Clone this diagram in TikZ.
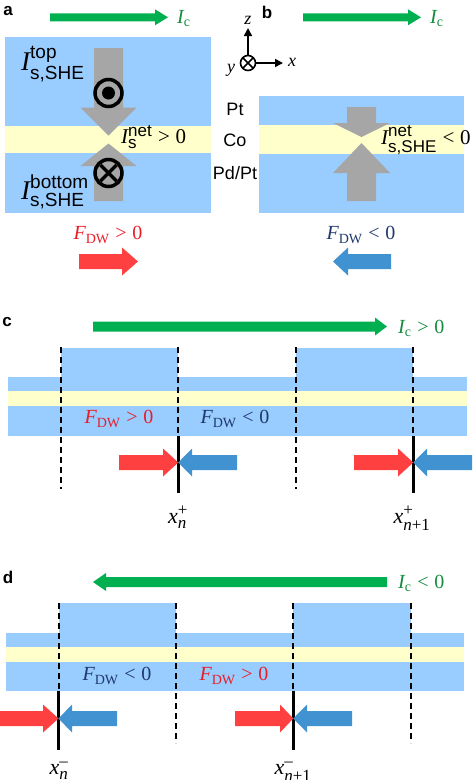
\documentclass[tikz,border=0pt]{standalone}
\usepackage{amsmath}
\usepackage{fontspec}
\setmainfont{Liberation Sans}
\setsansfont{Liberation Sans}
\newfontfamily\serif{Liberation Serif}
\usetikzlibrary{arrows.meta}
\DeclareMathSizes{20}{20}{14}{11}
\DeclareMathSizes{21}{21}{17}{12}
\DeclareMathSizes{22}{22}{17}{13}
\DeclareMathSizes{27}{27}{19}{14}
\newcommand\MI[1]{\text{\serif\itshape #1}}
\newcommand\MR[1]{\text{\serif #1}}
\newcommand\MS[1]{\text{\sffamily #1}}
\newcommand\Fdw{\MI{F}_{\MR{DW}}}
\newcommand\harrow[7]{\fill[#1] (#2,#5-#6) -- (#3,#5-#6) -- (#3,#5-#7) -- (#4,#5) -- (#3,#5+#7) -- (#3,#5+#6) -- (#2,#5+#6) -- cycle;}
\definecolor{lblue}{RGB}{153,204,255}
\definecolor{lyel}{RGB}{255,255,204}
\definecolor{garrow}{RGB}{166,166,166}
\definecolor{grn}{RGB}{0,176,80}
\definecolor{grntxt}{RGB}{20,140,60}
\definecolor{redar}{RGB}{255,64,64}
\definecolor{bluear}{RGB}{64,146,208}
\definecolor{redtxt}{RGB}{232,30,40}
\definecolor{navy}{RGB}{31,56,110}
\tikzset{
  lbl/.style={inner sep=0pt,font=\fontsize{17}{20}\selectfont\bfseries},
  sans/.style={inner sep=0pt,font=\fontsize{18}{21}\selectfont},
  mth/.style={inner sep=0pt,font=\fontsize{20}{24}\selectfont},
  mthx/.style={inner sep=0pt,font=\fontsize{22}{26}\selectfont},
  mthm/.style={inner sep=0pt,font=\fontsize{21}{25}\selectfont},
  mthb/.style={inner sep=0pt,font=\fontsize{27}{30}\selectfont},
  dashln/.style={line width=2pt,dash pattern=on 6pt off 4pt},
  wall/.style={line width=3.5pt},
  ax/.style={line width=1.6pt,-{Triangle[length=8pt,width=8pt]}}
}
\begin{document}
\begin{tikzpicture}[x=1pt,y=-1pt]
\useasboundingbox (0,0) rectangle (474,780);
% ================= panel a
\node[lbl] (la) at (8,11) {a};
\harrow{grn}{50}{155}{168}{17.3}{4}{8}
\node[mth,text=grntxt,anchor=base west] (ica) at (177,23) {$\MI{I}_{\MR{c}}$};
\fill[lblue] (5,37) rectangle (211,213);
\fill[lyel] (5,126) rectangle (211,153);
\fill[garrow] (94,48) -- (123,48) -- (123,107.5) -- (136.5,107.5) -- (108.5,135.5) -- (80.5,107.5) -- (94,107.5) -- cycle;
\fill[garrow] (94,201) -- (123,201) -- (123,166) -- (136.5,166) -- (108.5,143.5) -- (80.5,166) -- (94,166) -- cycle;
\draw[line width=3.5pt,fill=garrow] (108.5,93) circle[radius=13.5pt];
\fill[black] (108.5,93) circle[radius=6.5pt];
\draw[line width=3.5pt,fill=garrow] (108.5,173) circle[radius=13.5pt];
\draw[line width=3.5pt] (108.5,173) ++(-8,-8) -- ++(16,16);
\draw[line width=3.5pt] (108.5,173) ++(-8,8) -- ++(16,-16);
\node[mthb,anchor=west] (itop) at (21,64) {$\MI{I}^{\MS{top}}_{\MS{s,SHE}}$};
\node[mthb,anchor=west] (ibot) at (21,192) {$\MI{I}^{\MS{bottom}}_{\MS{s,SHE}}$};
\node[mthm,anchor=west] (inet) at (121,137) {$\MI{I}^{\MS{net}}_{\MS{s}} \mathrel{\MR{>}} \MR{0}$};
\node[sans] (pt) at (235,109) {Pt};
\node[sans] (co) at (235,140) {Co};
\node[sans] (pd) at (235,173) {Pd/Pt};
% axes
\coordinate (o) at (248,63);
\draw[line width=1.6pt] (o) circle[radius=7.5pt];
\draw[line width=1.6pt] (o) ++(-5,-5) -- ++(10,10);
\draw[line width=1.6pt] (o) ++(-5,5) -- ++(10,-10);
\coordinate (zt) at (248,28);
\coordinate (xt) at (283,63);
\draw[ax] (248,55.5) -- (zt);
\draw[ax] (255.5,63) -- (xt);
\node[inner sep=0pt,font=\fontsize{18}{20}\selectfont\serif\itshape] (zl) at (248,20) {z};
\node[inner sep=0pt,font=\fontsize{18}{20}\selectfont\serif\itshape] (xl) at (292,62) {x};
\node[inner sep=0pt,font=\fontsize{18}{20}\selectfont\serif\itshape] (yl) at (231,70) {y};
\node[mth,text=redtxt] (fa) at (108,235) {$\Fdw \mathrel{\MR{>}} \MR{0}$};
\harrow{redar}{79}{122}{138}{261.5}{7.5}{14}
% ================= panel b
\node[lbl] (lb) at (267,12) {b};
\harrow{grn}{303}{408}{421}{17.3}{4}{8}
\node[mth,text=grntxt,anchor=base west] (icb) at (430,23) {$\MI{I}_{\MR{c}}$};
\fill[lblue] (259,96) rectangle (464,212.5);
\fill[lyel] (259,125) rectangle (464,154);
\fill[garrow] (347,107) -- (376,107) -- (376,123) -- (390,123) -- (361.5,137) -- (333,123) -- (347,123) -- cycle;
\fill[garrow] (347,201) -- (376,201) -- (376,173) -- (390,173) -- (361.5,143) -- (333,173) -- (347,173) -- cycle;
\node[mthm,anchor=west] (inetb) at (381,140) {$\MI{I}^{\MS{net}}_{\MS{s,SHE}} \mathrel{\MR{<}} \MR{0}$};
\node[mth,text=navy] (fb) at (361,235) {$\Fdw \mathrel{\MR{<}} \MR{0}$};
\harrow{bluear}{391}{348}{333}{261.5}{7.5}{14}
% ================= panel c
\node[lbl] (lc) at (7,322) {c};
\harrow{grn}{93}{375}{387}{326.5}{5}{9}
\node[mth,text=grntxt,anchor=base west] (icc) at (398,333) {$\MI{I}_{\MR{c}} \mathrel{\MR{>}} \MR{0}$};
\fill[lblue] (8,377) rectangle (467,436);
\fill[lblue] (61,347.5) rectangle (178.3,391);
\fill[lblue] (295.7,347.5) rectangle (413.3,391);
\fill[lyel] (8,391) rectangle (467,406);
\node[mth,text=redtxt] (fc1) at (119,419) {$\Fdw \mathrel{\MR{>}} \MR{0}$};
\node[mth,text=navy] (fc2) at (235,419) {$\Fdw \mathrel{\MR{<}} \MR{0}$};
\draw[dashln] (61,347) -- (61,489);
\draw[dashln] (296,347) -- (296,489);
\draw[dashln] (178.3,347) -- (178.3,436);
\draw[dashln] (413.3,347) -- (413.3,436);
\draw[wall] (178.3,436) -- (178.3,493);
\draw[wall] (413.3,436) -- (413.3,493);
\harrow{redar}{119}{163}{178.3}{462.5}{7.5}{14}
\harrow{bluear}{237}{192}{178.3}{462.5}{7.5}{14}
\harrow{redar}{354}{398}{413.3}{462.5}{7.5}{14}
\harrow{bluear}{472}{427}{413.3}{462.5}{7.5}{14}
\node[mthx] (xn) at (178,517) {$\MI{x}^{\MR{+}}_{\MI{n}}$};
\node[mthx] (xn1) at (412,518) {$\MI{x}^{\MR{+}}_{\MI{n}\MR{+1}}$};
% ================= panel d
\node[lbl] (ld) at (8,577) {d};
\harrow{grn}{387}{106}{93}{582}{5}{9}
\node[mth,text=grntxt,anchor=base west] (icd) at (398,588) {$\MI{I}_{\MR{c}} \mathrel{\MR{<}} \MR{0}$};
\fill[lblue] (6,632.7) rectangle (464,690.7);
\fill[lblue] (58.5,603) rectangle (176,646.7);
\fill[lblue] (293.3,603) rectangle (410.7,646.7);
\fill[lyel] (6,646.7) rectangle (464,661.7);
\node[mth,text=navy] (fd1) at (117,676) {$\Fdw \mathrel{\MR{<}} \MR{0}$};
\node[mth,text=redtxt] (fd2) at (234,676) {$\Fdw \mathrel{\MR{>}} \MR{0}$};
\draw[dashln] (176,603) -- (176,743);
\draw[dashln] (410.7,603) -- (410.7,743);
\draw[dashln] (58.5,603) -- (58.5,690.7);
\draw[dashln] (293.3,603) -- (293.3,690.7);
\draw[wall] (58.5,690.7) -- (58.5,750);
\draw[wall] (293.3,690.7) -- (293.3,750);
\harrow{redar}{-5}{43}{58.5}{718.5}{7.5}{14}
\harrow{bluear}{117}{72}{58.5}{718.5}{7.5}{14}
\harrow{redar}{235}{280}{293.3}{718.5}{7.5}{14}
\harrow{bluear}{352}{307}{293.3}{718.5}{7.5}{14}
\node[mthx] (xm) at (59,771) {$\MI{x}^{\MR{\textendash}}_{\MI{n}}$};
\node[mthx] (xm1) at (293,772) {$\MI{x}^{\MR{\textendash}}_{\MI{n}\MR{+1}}$};
\end{tikzpicture}
\end{document}
